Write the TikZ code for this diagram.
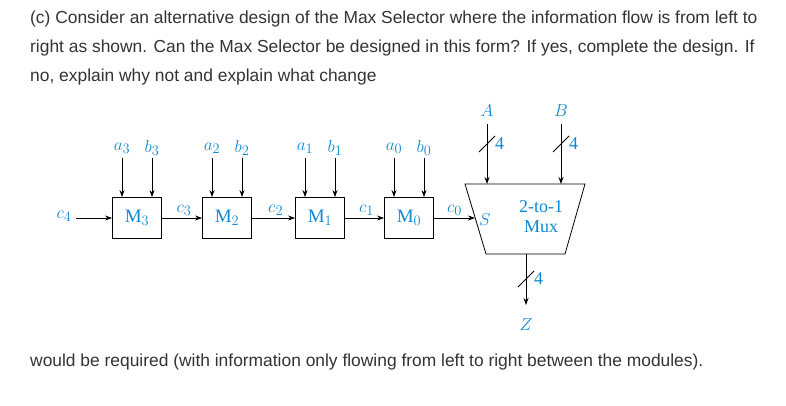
\documentclass[tikz,border=0pt]{standalone}
\usepackage{fontspec}
\setmainfont{Liberation Serif}
\newfontfamily\arialf{Liberation Sans}
\usetikzlibrary{arrows.meta}
\begin{document}
\begin{tikzpicture}[x=1pt,y=-1pt,
  blu/.style={text=cyan!70!blue},
  mbox/.style={draw,line width=0.8pt,minimum width=49pt,minimum height=41pt,inner sep=0pt,font=\fontsize{19}{19}\selectfont,blu},
  lab/.style={blu,font=\fontsize{19}{19}\selectfont\itshape,inner sep=1pt},
  arr/.style={-{Stealth[length=7pt,width=5pt]},line width=0.8pt},
  para/.style={font=\arialf\fontsize{17.4}{17.4}\selectfont,text=black!80,anchor=base west,inner sep=0pt}]
\useasboundingbox (0,0) rectangle (786,406);
\node[para] (t1) at (30,24) {(c) Consider an alternative design of the Max Selector where the information flow is from left to};
\node[para] (t2) at (30,53) {right as shown. Can the Max Selector be designed in this form? If yes, complete the design. If};
\node[para] (t3) at (30,82) {no, explain why not and explain what change};
\node[para] (t4) at (30,366) {would be required (with information only flowing from left to right between the modules).};
% boxes
\node[mbox] (M3) at (137,218) {M$_3$};
\node[mbox] (M2) at (227,218) {M$_2$};
\node[mbox] (M1) at (320,218) {M$_1$};
\node[mbox] (M0) at (409,218) {M$_0$};
% mux
\coordinate (mtl) at (465,184); \coordinate (mtr) at (585,184);
\coordinate (mbr) at (565,254); \coordinate (mbl) at (486,254);
\draw[line width=0.8pt] (mtl)--(mtr)--(mbr)--(mbl)--cycle;
\coordinate (S) at (475,218);
\node[blu,font=\fontsize{19}{19}\selectfont,inner sep=0pt,anchor=west] (s) at (479,220) {$S$};
\node[blu,font=\fontsize{18}{20}\selectfont,align=center] (mx) at (541,217) {2-to-1\\Mux};
% c labels and chain
\node[lab] (c4) at (64,216) {$c_4$};
\coordinate (c4e) at (76,218);
\draw[arr] (c4e) -- (M3.west);
\draw[arr] (M3.east) -- (M2.west) node[lab,pos=0.55,above=1pt] (c3) {$c_3$};
\draw[arr] (M2.east) -- (M1.west) node[lab,pos=0.55,above=1pt] (c2) {$c_2$};
\draw[arr] (M1.east) -- (M0.west) node[lab,pos=0.55,above=1pt] (c1) {$c_1$};
\draw[arr] (M0.east) -- (S) node[lab,pos=0.5,above=1pt] (c0) {$c_0$};
% inputs
\foreach \m/\i in {M3/3,M2/2,M1/1,M0/0}{
  \node[lab] (a\i) at ([xshift=-15pt,yshift=70pt]\m.center) {$a_\i$};
  \node[lab] (b\i) at ([xshift=15pt,yshift=70pt]\m.center) {$b_\i$};
  \draw[arr] ([yshift=60pt,xshift=-15pt]\m.center) -- ([xshift=-15pt]\m.north);
  \draw[arr] ([yshift=60pt,xshift=15pt]\m.center) -- ([xshift=15pt]\m.north);
}
% A, B, Z
\node[lab] (A) at (487,111) {$A$};
\node[lab] (B) at (561,111) {$B$};
\coordinate (Ae) at (487,124); \coordinate (Ai) at (487,184);
\coordinate (Be) at (561,124); \coordinate (Bi) at (561,184);
\draw[arr] (Ae) -- (Ai);
\draw[arr] (Be) -- (Bi);
\coordinate (Zo) at (526,254); \coordinate (Ze) at (526,305);
\draw[arr] (Zo) -- (Ze);
\node[lab] (Z) at (526,325) {$Z$};
\foreach \x/\y in {487/144,561/144,526/279}{
  \draw[line width=0.8pt] (\x-8,\y+8) -- (\x+8,\y-8);
  \node[blu,font=\fontsize{18}{18}\selectfont,anchor=west,inner sep=0pt] at (\x+8,\y) {4};
}
\end{tikzpicture}
\end{document}
